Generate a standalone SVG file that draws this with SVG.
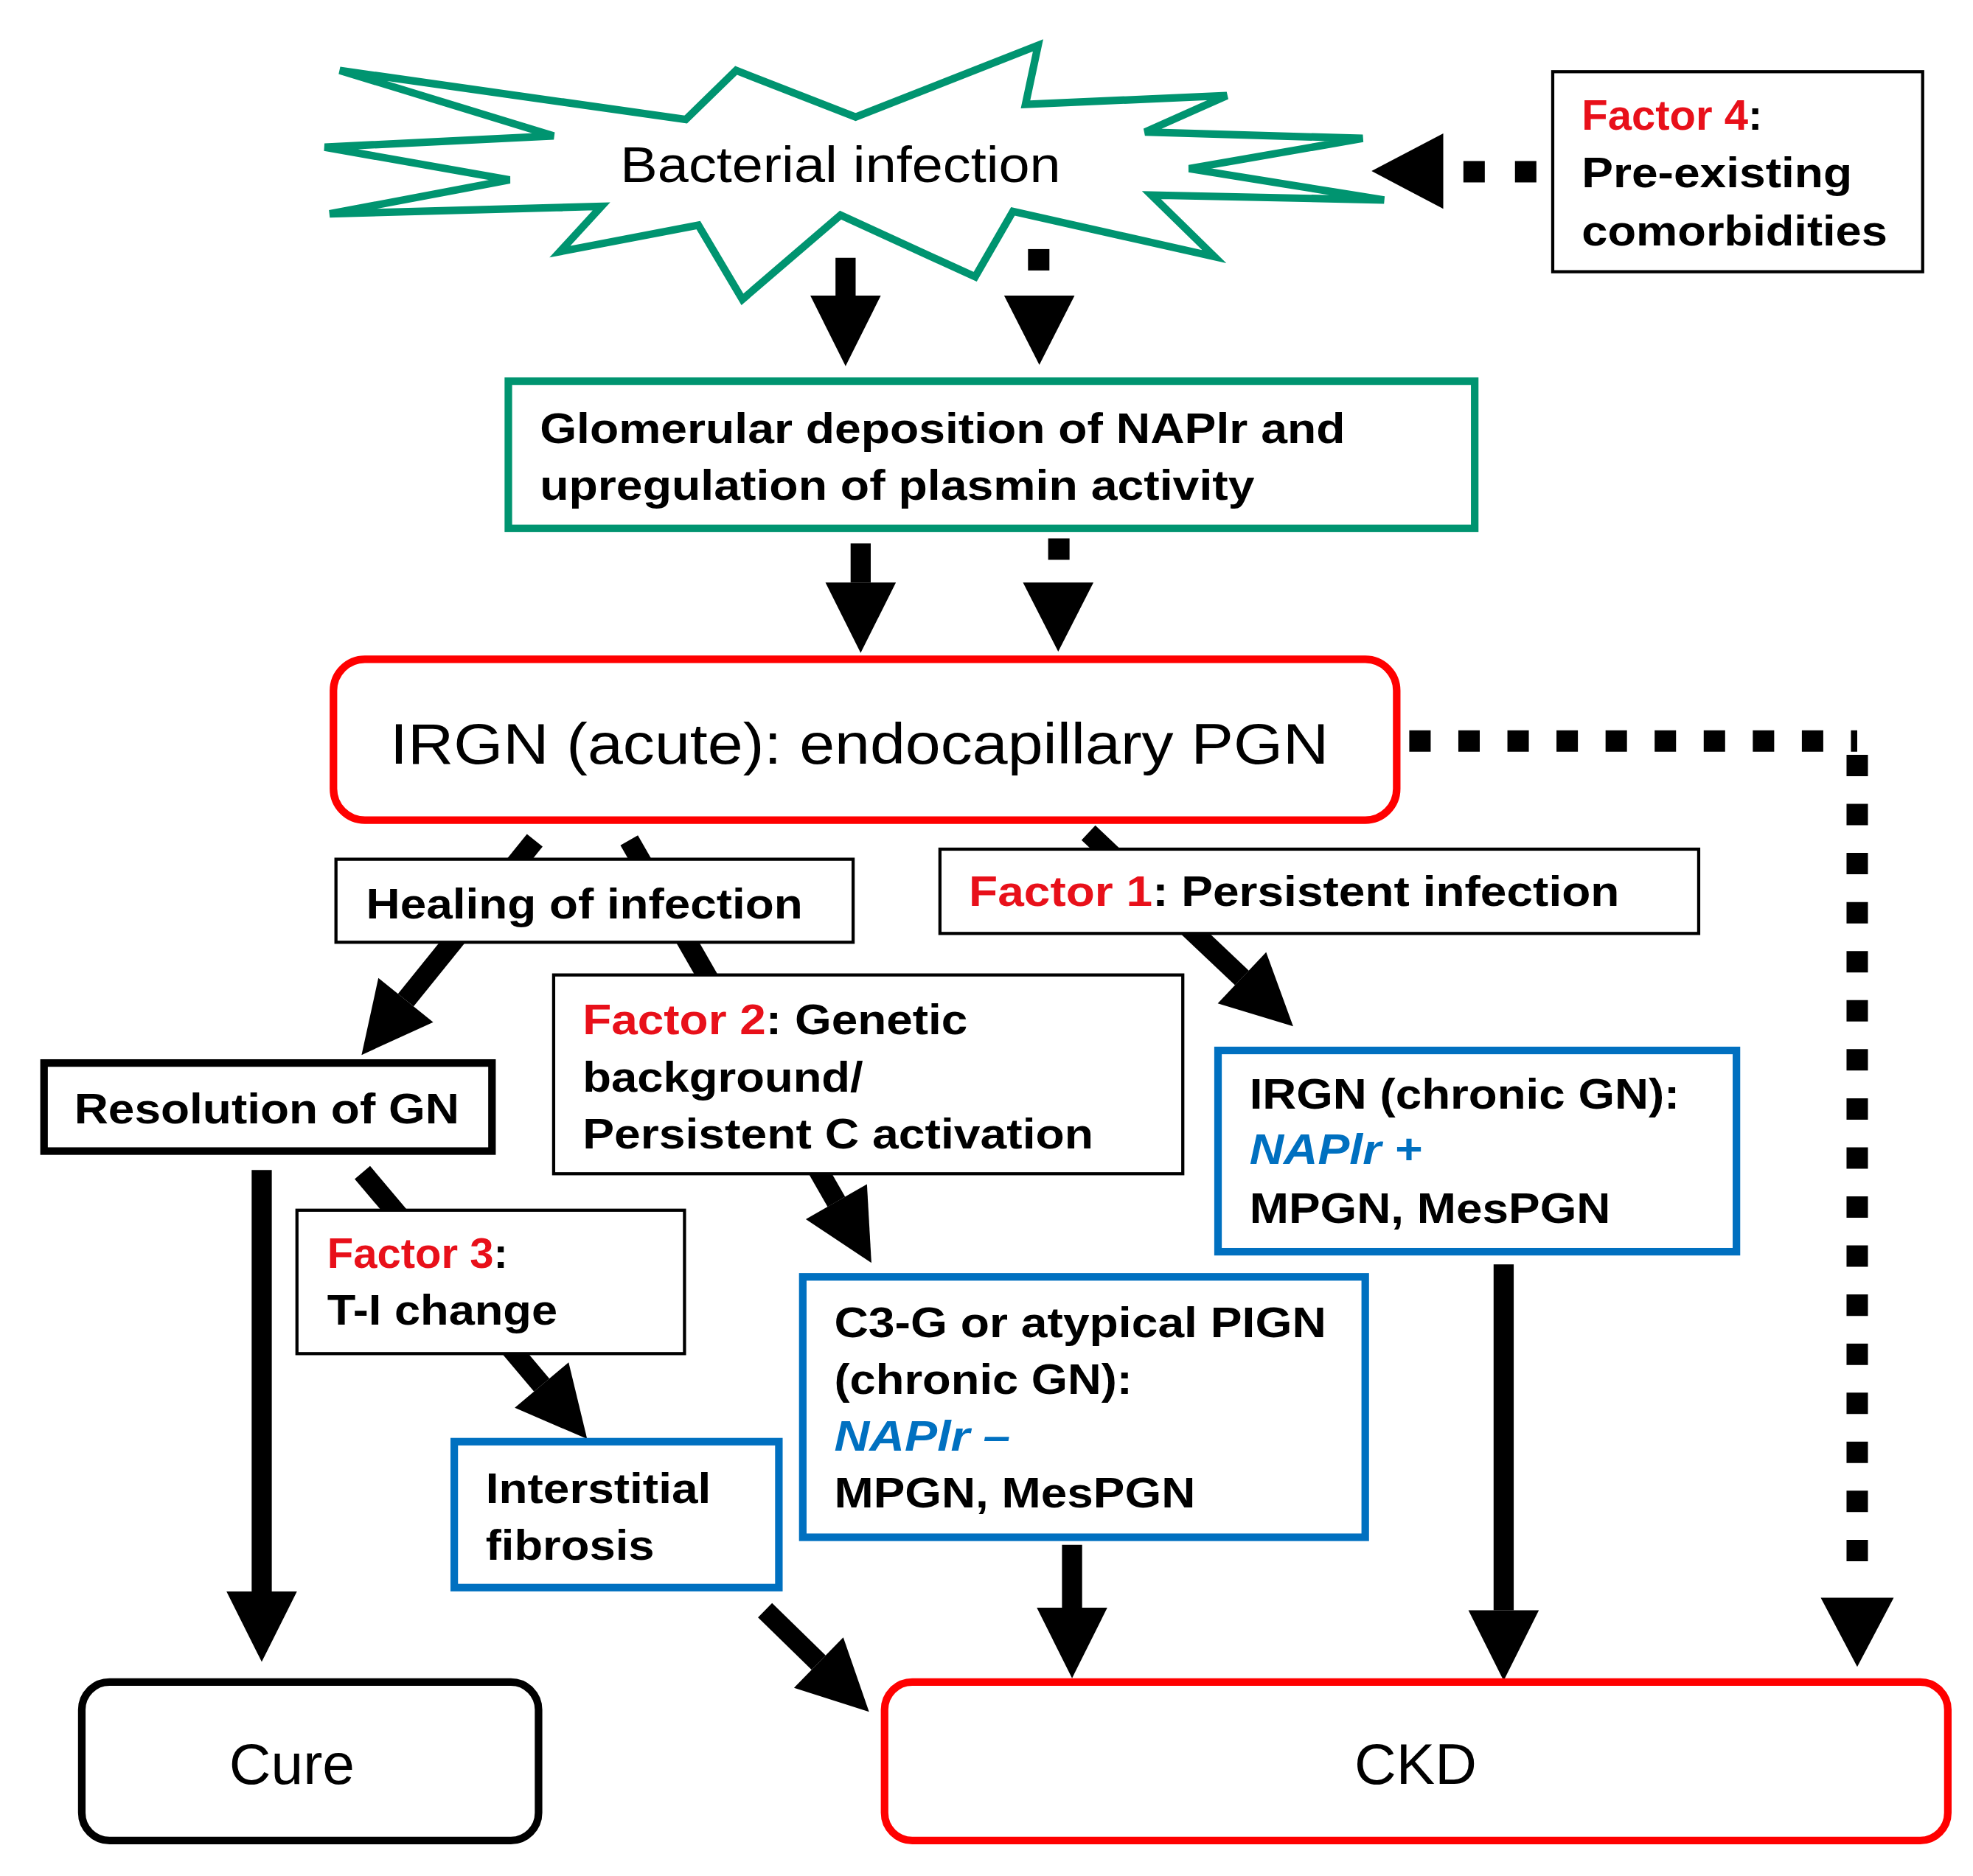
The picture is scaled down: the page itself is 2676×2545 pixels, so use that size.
<svg xmlns="http://www.w3.org/2000/svg" width="2676" height="2545" viewBox="0 0 2676 2545">
<style>
text{font-family:"Liberation Sans",Arial,sans-serif;fill:#000}
.b{font-weight:bold;font-size:34px}
.r{fill:#e8101a}
.bl{fill:#0070c0;font-style:italic}
.box{fill:#fff;stroke:#000;stroke-width:2.5}
.blue{fill:#fff;stroke:#0070c0;stroke-width:6}
.sh{stroke:#000;stroke-width:16;fill:none;marker-end:url(#ah)}
.dot{stroke:#000;stroke-width:17;fill:none;stroke-dasharray:17 22}
</style>
<defs>
<marker id="ah" markerUnits="userSpaceOnUse" markerWidth="60" markerHeight="60" refX="0" refY="30" orient="auto" overflow="visible"><path d="M0,2 L56,30 L0,58 z" fill="#000"/></marker>
</defs>
<rect width="2676" height="2545" fill="#fff"/>
<g transform="scale(1.70663)">
<g id="connectors">
<line class="sh" x1="672" y1="205" x2="672" y2="235"/>
<rect x="817" y="198" width="17" height="17" fill="#000"/>
<path d="M798,235 L854,235 L826,290 z" fill="#000"/>
<line class="sh" x1="684" y1="432" x2="684" y2="463"/>
<rect x="833" y="428" width="17" height="17" fill="#000"/>
<path d="M813,463 L869,463 L841,518 z" fill="#000"/>
<rect x="1163" y="128" width="17" height="17" fill="#000"/>
<rect x="1204" y="128" width="17" height="17" fill="#000"/>
<path d="M1147,106 L1147,166 L1090,136 z" fill="#000"/>
<line class="dot" x1="1120" y1="589" x2="1476" y2="589"/>
<line class="dot" x1="1476" y1="600" x2="1476" y2="1262"/>
<path d="M1447,1270 L1505,1270 L1476,1325 z" fill="#000"/>
<line class="sh" x1="425" y1="668" x2="322.5" y2="795"/>
<line class="sh" x1="500" y1="668" x2="664.7" y2="955.3"/>
<line class="sh" x1="865" y1="662" x2="987" y2="777.3"/>
<line class="sh" x1="288" y1="932" x2="430.5" y2="1101"/>
<line class="sh" x1="608" y1="1280" x2="650.6" y2="1321.6"/>
<line class="sh" x1="208" y1="930" x2="208" y2="1265"/>
<line class="sh" x1="852" y1="1228" x2="852" y2="1278"/>
<line class="sh" x1="1195" y1="1005" x2="1195" y2="1280"/>
</g>
<g id="bacterial">
<path d="M270,56 L545,95 L585,56 L680,93 L825,36 L815,83 L975,76 L910,105 L1083,110 L945,134 L1100,159 L915,155 L965,204 L805,168 L775,220 L668,171 L590,238 L555,179 L445,200 L478,164 L262,170 L405,143 L258,117 L440,108 z" fill="#fff" stroke="#009470" stroke-width="6" stroke-linejoin="miter"/>
<text x="493" y="145" font-size="40" textLength="350" lengthAdjust="spacingAndGlyphs">Bacterial infection</text>
</g>
<g id="factor4">
<rect class="box" x="1234" y="57" width="294" height="159"/>
<text class="b" x="1257" y="103"><tspan class="r">Factor 4</tspan>:</text>
<text class="b" x="1257" y="149" textLength="215" lengthAdjust="spacingAndGlyphs">Pre-existing</text>
<text class="b" x="1257" y="195" textLength="243" lengthAdjust="spacingAndGlyphs">comorbidities</text>
</g>
<g id="glomerular">
<rect x="404" y="303" width="768" height="117" fill="#fff" stroke="#009470" stroke-width="6"/>
<text class="b" x="429" y="352" textLength="640" lengthAdjust="spacingAndGlyphs">Glomerular deposition of NAPlr and</text>
<text class="b" x="429" y="397" textLength="568" lengthAdjust="spacingAndGlyphs">upregulation of plasmin activity</text>
</g>
<g id="irgn-acute">
<rect x="265" y="524" width="845" height="128" rx="25" fill="#fff" stroke="#ff0000" stroke-width="6"/>
<text x="310" y="607" font-size="46" textLength="746" lengthAdjust="spacingAndGlyphs">IRGN (acute): endocapillary PGN</text>
</g>
<g id="healing">
<rect class="box" x="267" y="683" width="411" height="66"/>
<text class="b" x="291" y="730" textLength="347" lengthAdjust="spacingAndGlyphs">Healing of infection</text>
</g>
<g id="factor1">
<rect class="box" x="747" y="675" width="603" height="67"/>
<text class="b" x="770" y="720" textLength="517" lengthAdjust="spacingAndGlyphs"><tspan class="r">Factor 1</tspan>: Persistent infection</text>
</g>
<g id="resolution">
<rect x="35" y="845" width="356" height="70" fill="#fff" stroke="#000" stroke-width="6"/>
<text class="b" x="59" y="893" textLength="306" lengthAdjust="spacingAndGlyphs">Resolution of GN</text>
</g>
<g id="factor2">
<rect class="box" x="440" y="775" width="500" height="158"/>
<text class="b" x="463" y="822" textLength="306" lengthAdjust="spacingAndGlyphs"><tspan class="r">Factor 2</tspan>: Genetic</text>
<text class="b" x="463" y="868" textLength="223" lengthAdjust="spacingAndGlyphs">background/</text>
<text class="b" x="463" y="913" textLength="406" lengthAdjust="spacingAndGlyphs">Persistent C activation</text>
</g>
<g id="irgn-chronic">
<rect class="blue" x="968" y="835" width="412" height="160"/>
<text class="b" x="993" y="881" textLength="342" lengthAdjust="spacingAndGlyphs">IRGN (chronic GN):</text>
<text class="b bl" x="993" y="925" textLength="137" lengthAdjust="spacingAndGlyphs">NAPlr +</text>
<text class="b" x="993" y="972" textLength="287" lengthAdjust="spacingAndGlyphs">MPGN, MesPGN</text>
</g>
<g id="factor3">
<rect class="box" x="236" y="962" width="308" height="114"/>
<text class="b" x="260" y="1008"><tspan class="r">Factor 3</tspan>:</text>
<text class="b" x="260" y="1053" textLength="183" lengthAdjust="spacingAndGlyphs">T-I change</text>
</g>
<g id="c3g">
<rect class="blue" x="638" y="1015" width="447" height="207"/>
<text class="b" x="663" y="1063" textLength="391" lengthAdjust="spacingAndGlyphs">C3-G or atypical PIGN</text>
<text class="b" x="663" y="1108" textLength="237" lengthAdjust="spacingAndGlyphs">(chronic GN):</text>
<text class="b bl" x="663" y="1153" textLength="140" lengthAdjust="spacingAndGlyphs">NAPlr –</text>
<text class="b" x="663" y="1198" textLength="287" lengthAdjust="spacingAndGlyphs">MPGN, MesPGN</text>
</g>
<g id="interstitial">
<rect class="blue" x="361" y="1146" width="258" height="116"/>
<text class="b" x="386" y="1195" textLength="179" lengthAdjust="spacingAndGlyphs">Interstitial</text>
<text class="b" x="386" y="1240" textLength="134" lengthAdjust="spacingAndGlyphs">fibrosis</text>
</g>
<g id="cure">
<rect x="65" y="1337" width="363" height="126" rx="22" fill="#fff" stroke="#000" stroke-width="6"/>
<text x="232" y="1418" font-size="46" text-anchor="middle">Cure</text>
</g>
<g id="ckd">
<rect x="703" y="1337" width="845" height="126" rx="22" fill="#fff" stroke="#ff0000" stroke-width="6"/>
<text x="1125" y="1418" font-size="46" text-anchor="middle">CKD</text>
</g>
</g>
</svg>
